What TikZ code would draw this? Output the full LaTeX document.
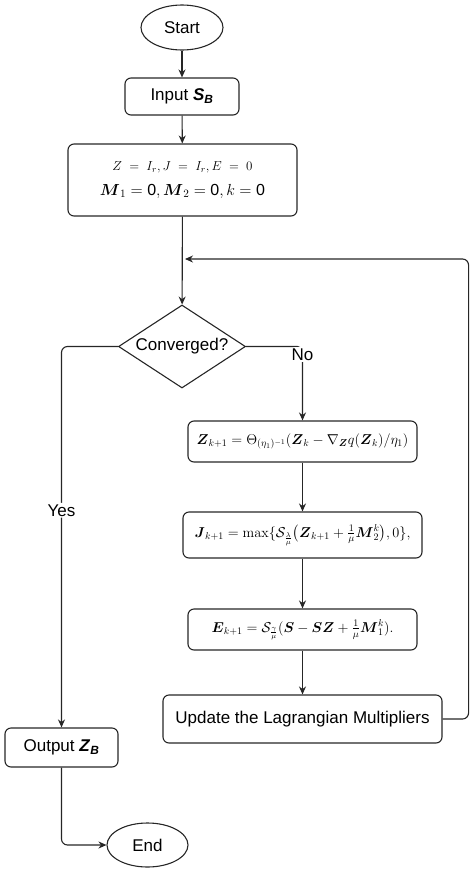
\RequirePackage{fix-cm}
\documentclass[tikz,border=0pt]{standalone}
\usepackage{amsmath,amssymb}
\usepackage[no-math]{fontspec}
\setmainfont{Liberation Sans}
\usetikzlibrary{shapes.geometric,arrows.meta}
\newcommand{\bz}{\boldsymbol{Z}}
\newcommand{\bM}{\boldsymbol{M}}
\begin{document}
\begin{tikzpicture}[x=1pt,y=-1pt,
  base/.style={draw=black!85, line width=1.1pt, font=\fontsize{17}{20}\selectfont},
  box/.style={base, rectangle, rounded corners=6pt, inner sep=0pt},
  term/.style={base, ellipse, inner sep=0pt},
  dec/.style={base, diamond, inner sep=0pt},
  conn/.style={draw=black!85, line width=1.1pt, -{Stealth[length=8pt,width=7pt]}},
  lab/.style={fill=white, inner sep=1.5pt, font=\fontsize{17}{20}\selectfont},
  fm/.style={font=\fontsize{14.3}{17}\selectfont}]
\useasboundingbox (0,0) rectangle (474,871);
\node[term, minimum width=82pt, minimum height=45pt] (start) at (182,27.5) {Start};
\node[box, minimum width=114pt, minimum height=37pt] (input) at (182,96.5)
  {Input $\textbf{\textit{S}}_{\textbf{\textit{B}}}$};
\node[box, minimum width=229pt, minimum height=72pt, align=center] (init) at (182.5,180)
  {{\fontsize{13}{15}\selectfont $Z\;=\;I_r, J\;=\;I_r, E\;=\;0$}\\[5pt]
   {\fontsize{16}{18}\selectfont $\bM_1=\text{0},\bM_2=\text{0},k=\text{0}$}};
\node[dec, minimum width=127pt, minimum height=83pt] (conv) at (182,346.5) {};
\node[font=\fontsize{17}{20}\selectfont] (convtxt) at (conv.center) {Converged?};
\node[box, fm, minimum width=229pt, minimum height=41pt] (zbox) at (302.5,441.5)
  {$\bz_{k+1}=\Theta_{(\eta_1)^{-1}}(\bz_k-\nabla_{\bz}q(\bz_k)/\eta_1)$};
\node[box, fm, minimum width=239pt, minimum height=46pt] (jbox) at (302.5,535)
  {$\boldsymbol{J}_{k+1}=\max\{\mathcal{S}_{\frac{\lambda}{\mu}}\big(\bz_{k+1}+\frac{1}{\mu}\bM_2^k\big),0\},$};
\node[box, fm, minimum width=229pt, minimum height=41pt] (ebox) at (302.5,629.5)
  {$\boldsymbol{E}_{k+1}=\mathcal{S}_{\frac{\gamma}{\mu}}(\boldsymbol{S}-\boldsymbol{S}\bz+\frac{1}{\mu}\bM_1^k).$};
\node[box, minimum width=279pt, minimum height=48pt] (upd) at (302.5,719)
  {Update the Lagrangian Multipliers};
\node[box, minimum width=113pt, minimum height=39pt] (out) at (61.5,747.5)
  {Output $\textbf{\textit{Z}}_{\textbf{\textit{B}}}$};
\node[term, minimum width=81pt, minimum height=44pt] (end) at (147.5,845) {End};
\coordinate (loopend) at (185,259);
\draw[conn] (start) -- (input);
\draw[conn] (input) -- (init);
\draw[conn] (init) -- (conv);
\draw[conn, rounded corners=5pt] (conv.east) -| node[lab, pos=0.5, yshift=-8pt] (no) {No} (zbox.north);
\draw[conn, rounded corners=6pt] (conv.west) -| node[lab, pos=0.715] (yes) {Yes} (out.north);
\draw[conn] (zbox) -- (jbox);
\draw[conn] (jbox) -- (ebox);
\draw[conn] (ebox) -- (upd);
\draw[conn, rounded corners=6pt] (upd.east) -- ++(26,0) |- (loopend);
\draw[conn, rounded corners=6pt] (out.south) |- (end.west);
\end{tikzpicture}
\end{document}
